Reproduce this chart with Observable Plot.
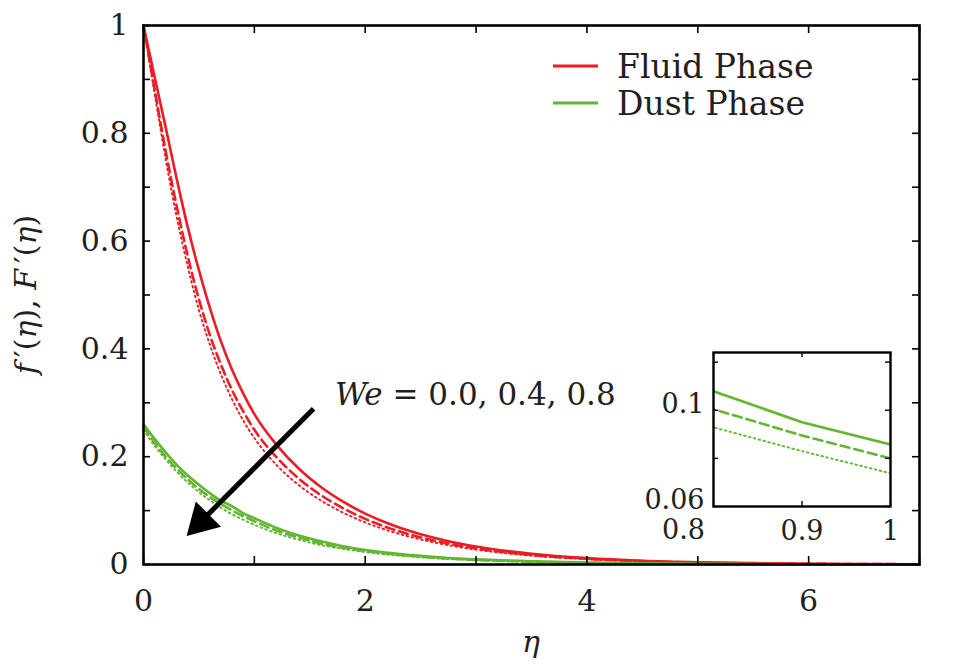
<!DOCTYPE html>
<html><head><meta charset="utf-8">
<script src="https://cdn.jsdelivr.net/npm/d3@7"></script>
<script src="https://cdn.jsdelivr.net/npm/@observablehq/plot@0.6"></script>
<style>
body{margin:0;background:#fff;}
#wrap{position:relative;width:959px;height:664px;overflow:hidden;background:#fff;}
#inset{position:absolute;left:633px;top:340px;}
#legend{position:absolute;left:0;top:0;}
</style></head>
<body><div id="wrap"></div>
<script>
// ---- data ----
const eta = [0,0.1,0.2,0.3,0.4,0.5,0.6,0.7,0.8,0.9,1.0,1.2,1.4,1.6,1.8,2.0,2.25,2.5,2.75,3.0,3.5,4.0,4.5,5.0,5.5,6.0,6.5,7.0];
// Fluid phase f'(eta) for We = 0.0, 0.4, 0.8
const fluidWe00 = [1,0.905,0.811,0.715,0.625,0.546,0.475,0.413,0.361,0.317,0.279,0.222,0.178,0.1437,0.1165,0.0944,0.0727,0.0561,0.0433,0.0334,0.0198,0.0118,0.007,0.0042,0.0025,0.0015,0.0009,0.0005];
const fluidWe04 = [1,0.882,0.767,0.664,0.571,0.492,0.425,0.37,0.323,0.284,0.25,0.199,0.1596,0.1287,0.1044,0.0846,0.0652,0.0503,0.0388,0.0299,0.0178,0.0106,0.0063,0.0037,0.0022,0.0013,0.0008,0.0005];
const fluidWe08 = [1,0.874,0.752,0.644,0.552,0.472,0.407,0.352,0.306,0.267,0.2346,0.1845,0.1474,0.1188,0.0963,0.0781,0.0602,0.0464,0.0358,0.0276,0.0164,0.0098,0.0058,0.0035,0.0021,0.0012,0.0007,0.0004];
// Dust phase F'(eta) for We = 0.0, 0.4, 0.8
const dustWe00 = [0.26,0.233,0.208,0.185,0.165,0.148,0.132,0.118,0.1079,0.095,0.0858,0.068,0.054,0.043,0.034,0.027,0.021,0.016,0.012,0.0095,0.006,0.0035,0.002,0.0012,0.0007,0.0004,0.0002,0.0001];
const dustWe04 = [0.255,0.226,0.2,0.178,0.158,0.14,0.125,0.112,0.1004,0.0895,0.08,0.063,0.05,0.039,0.031,0.025,0.019,0.0145,0.011,0.0085,0.0053,0.0032,0.0018,0.0011,0.0006,0.0004,0.0002,0.0001];
const dustWe08 = [0.25,0.22,0.195,0.172,0.152,0.134,0.119,0.105,0.0929,0.083,0.0738,0.058,0.046,0.036,0.029,0.023,0.0175,0.0135,0.0102,0.008,0.005,0.003,0.0017,0.001,0.0006,0.0003,0.0002,0.0001];

const weValues = ["0.0","0.4","0.8"];
const phases = ["Fluid Phase","Dust Phase"];
const xTicks = [0,1,2,3,4,5,6,7];
const xTickLabels = [0,2,4,6];
const yTicks = [0,0.1,0.2,0.3,0.4,0.5,0.6,0.7,0.8,0.9,1];
const yTickLabels = [0,0.2,0.4,0.6,0.8,1];
const insetXTicks = [0.8,0.9,1];
const insetYTicks = [0.06,0.08,0.1,0.12];
const insetYLabels = [0.06,0.1];
// annotation arrow (data units)
const arrowStart = {x:1.534, y:0.289};
const arrowHead = {x:0.52, y:0.08};

// ---- styles ----
const RED = "#ea1c24", GREEN = "#62b631", INK = "#231f20";
const styleOf = {
  "0.0": {dash: null, width: 2.6},
  "0.4": {dash: "9,5", width: 2.6},
  "0.8": {dash: "1.6,3.4", width: 1.9}
};
const seriesList = [
  {phase:"Fluid Phase", we:"0.0", vals:fluidWe00, color:RED},
  {phase:"Fluid Phase", we:"0.4", vals:fluidWe04, color:RED},
  {phase:"Fluid Phase", we:"0.8", vals:fluidWe08, color:RED},
  {phase:"Dust Phase", we:"0.0", vals:dustWe00, color:GREEN},
  {phase:"Dust Phase", we:"0.4", vals:dustWe04, color:GREEN},
  {phase:"Dust Phase", we:"0.8", vals:dustWe08, color:GREEN}
];
const rows = s => eta.map((e,i)=>({eta:e, v:s.vals[i]}));

const FONT = "DejaVu Serif";
const W = 959, H = 664, ML = 143, MR = 40, MT = 25, MB = 100;
const fw = W-ML-MR, fh = H-MT-MB;

const main = Plot.plot({
  width: W, height: H,
  marginLeft: ML, marginRight: MR, marginTop: MT, marginBottom: MB,
  style: {fontFamily: FONT, fontSize: "30px", background: "white", color: INK},
  x: {domain: [0,7]},
  y: {domain: [0,1]},
  marks: [
    ...seriesList.map(s => Plot.line(rows(s), {
      x:"eta", y:"v", stroke:s.color, strokeWidth:styleOf[s.we].width,
      strokeDasharray:styleOf[s.we].dash, curve:"monotone-x"
    })),
    Plot.ruleX(xTicks, {x: d=>d, insetTop: fh-8, stroke:"black", strokeWidth:1.6}),
    Plot.ruleX(xTicks, {x: d=>d, insetBottom: fh-8, stroke:"black", strokeWidth:1.6}),
    Plot.ruleY(yTicks, {y: d=>d, insetRight: fw-7, stroke:"black", strokeWidth:1.6}),
    Plot.ruleY(yTicks, {y: d=>d, insetLeft: fw-7, stroke:"black", strokeWidth:1.6}),
    Plot.axisX(xTickLabels, {tickSize:0, tickPadding:25, label:null, fontSize:30}),
    Plot.axisY(yTickLabels, {tickSize:0, tickPadding:15, label:null, fontSize:30, tickFormat: d=>String(d)}),
    Plot.link([arrowStart], {x1:"x", y1:"y", x2:()=>arrowHead.x, y2:()=>arrowHead.y, stroke:"black", strokeWidth:5}),
    Plot.dot([arrowHead], {x:"x", y:"y", symbol:"triangle2", r:17, fill:"black", stroke:"none", rotate:225}),
    Plot.frame({stroke:"black", strokeWidth:2.6})
  ]
});

const svg = d3.select(main);
// x label
svg.append("text").attr("x", ML+fw/2).attr("y", 652).attr("text-anchor","middle")
  .attr("font-family",FONT).attr("font-size",30).attr("font-style","italic").attr("fill",INK).text("η");
// y label
const yl = svg.append("text").attr("transform", "translate(36," + (MT+fh/2) + ") rotate(-90)")
  .attr("text-anchor","middle").attr("font-family",FONT).attr("font-size",30).attr("fill",INK);
[["f","italic"],["\u2009′(","normal"],["η","italic"],["), ","normal"],["F","italic"],["\u2009′(","normal"],["η","italic"],[")","normal"]]
  .forEach(([t,s])=>yl.append("tspan").attr("font-style",s).text(t));
// annotation
const ann = svg.append("text").attr("x", 335).attr("y", 405).attr("text-anchor","start")
  .attr("font-family",FONT).attr("font-size",31).attr("fill",INK);
ann.append("tspan").attr("font-style","italic").text("We");
ann.append("tspan").text(" = " + weValues.join(", "));

document.getElementById("wrap").appendChild(main);

// ---- inset ----
const inset = Plot.plot({
  width: 277, height: 216, marginLeft: 80, marginRight: 20, marginTop: 12, marginBottom: 50,
  style: {fontFamily: FONT, fontSize: "27px", background: "transparent", color: INK},
  x: {domain: [0.8, 1]},
  y: {domain: [0.06, 0.124]},
  marks: [
    Plot.frame({fill:"white", stroke:"none"}),
    ...seriesList.filter(s=>s.phase==="Dust Phase").map(s => Plot.line(rows(s), {
      x:"eta", y:"v", stroke:s.color, strokeWidth:styleOf[s.we].width,
      strokeDasharray:styleOf[s.we].dash, clip:true
    })),
    Plot.ruleX(insetXTicks, {x:d=>d, insetTop:154-5, stroke:"black", strokeWidth:1.4}),
    Plot.ruleX(insetXTicks, {x:d=>d, insetBottom:154-5, stroke:"black", strokeWidth:1.4}),
    Plot.ruleY(insetYTicks, {y:d=>d, insetRight:177-5, stroke:"black", strokeWidth:1.4}),
    Plot.ruleY(insetYTicks, {y:d=>d, insetLeft:177-5, stroke:"black", strokeWidth:1.4}),
    Plot.axisX([0.9,1], {tickSize:0, tickPadding:14, label:null, fontSize:27, tickFormat:d=>String(d)}),
    Plot.text([0.8], {x:d=>d, frameAnchor:"bottom", dy:32, dx:-30, text:d=>String(d), fontSize:27, fill:INK}),
    Plot.axisY(insetYLabels, {tickSize:0, tickPadding:9, label:null, fontSize:27, dy:-6, tickFormat:d=>String(d)}),
    Plot.frame({stroke:"black", strokeWidth:2.4})
  ]
});
inset.id = "inset";
document.getElementById("wrap").appendChild(inset);

// ---- legend ----
const lg = d3.select("#wrap").append("svg").attr("id","legend").attr("width",W).attr("height",140);
phases.forEach((p,i)=>{
  const cy = 66 + i*37;
  lg.append("line").attr("x1",553).attr("x2",598).attr("y1",cy).attr("y2",cy)
    .attr("stroke", i===0?RED:GREEN).attr("stroke-width",3);
  lg.append("text").attr("x",617).attr("y",cy).attr("dy","0.36em")
    .attr("font-family",FONT).attr("font-size",33).attr("fill",INK).text(p);
});
</script>
</body></html>
